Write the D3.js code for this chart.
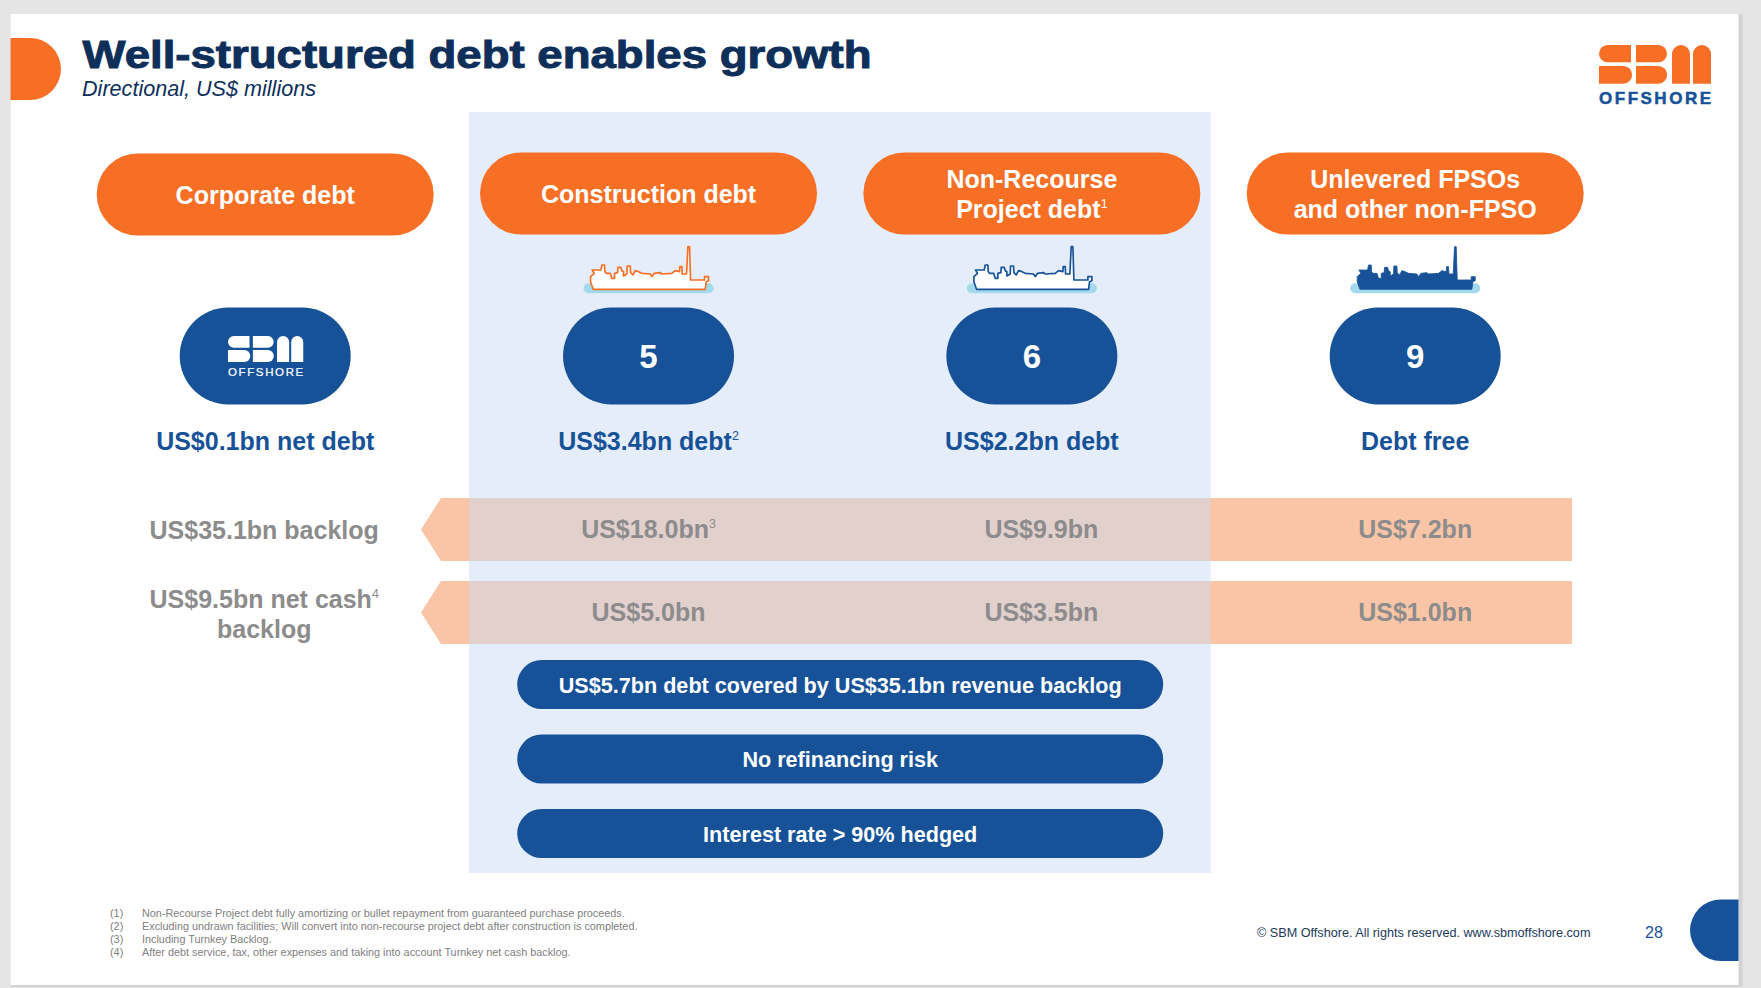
<!DOCTYPE html>
<html>
<head>
<meta charset="utf-8">
<title>Well-structured debt enables growth</title>
<script src="https://cdn.jsdelivr.net/npm/d3@7"></script>
<style>
  body { margin: 0; background: #e5e5e5; }
  svg { display: block; }
  text { font-family: "Liberation Sans", Arial, sans-serif; }
</style>
</head>
<body>
<svg id="slide"></svg>
<script>
// chart content
const categories = ["Corporate debt", "Construction debt", "Non-Recourse Project debt", "Unlevered FPSOs and other non-FPSO"];
const headerLines = [["Corporate debt"], ["Construction debt"], ["Non-Recourse", "Project debt"], ["Unlevered FPSOs", "and other non-FPSO"]];
const headerNotes = ["", "", "1", ""];
const fleetCounts = [null, 5, 6, 9];
const debtLabels = ["US$0.1bn net debt", "US$3.4bn debt", "US$2.2bn debt", "Debt free"];
const debtNotes = ["", "2", "", ""];
const backlogRows = ["backlog", "netCash"];
const rowLabels = [["US$35.1bn backlog"], ["US$9.5bn net cash", "backlog"]];
const rowNotes = ["", "4"];
const backlogValues = ["", "US$18.0bn", "US$9.9bn", "US$7.2bn"];
const backlogNotes = ["", "3", "", ""];
const netCashValues = ["", "US$5.0bn", "US$3.5bn", "US$1.0bn"];
const statements = ["US$5.7bn debt covered by US$35.1bn revenue backlog", "No refinancing risk", "Interest rate > 90% hedged"];
const footnotes = [
  "Non-Recourse Project debt fully amortizing or bullet repayment from guaranteed purchase proceeds.",
  "Excluding undrawn facilities; Will convert into non-recourse project debt after construction is completed.",
  "Including Turnkey Backlog.",
  "After debt service, tax, other expenses and taking into account Turnkey net cash backlog."
];
const shipStyles = ["outlineOrange", "outlineBlue", "solidBlue"];

const orange = "#f66f25", blue = "#175299", navy = "#0e2f5a", grey = "#8c8c8c";
const width = 1761, height = 988;

const svg = d3.select("#slide").attr("width", width).attr("height", height);

// page sheet
svg.append("rect").attr("x", 10.5).attr("y", 14).attr("width", 1732).attr("height", 973).attr("fill", "#d2d2d2");
svg.append("rect").attr("x", 10.5).attr("y", 14).attr("width", 1728).attr("height", 971).attr("fill", "#fff");

// scales
const x = d3.scalePoint().domain(categories).range([265.2, 1415.2]);
const rowY = d3.scalePoint().domain(backlogRows).range([529.5, 612.5]);
const stmtY = d3.scalePoint().domain(statements).range([684.5, 833.5]);

// side tabs, rounded on one side only
const tabPath = (x0, x1, y0, y1, r, roundRight) => roundRight
  ? `M${x0},${y0}H${x1 - r}A${r},${r} 0 0 1 ${x1},${y0 + r}V${y1 - r}A${r},${r} 0 0 1 ${x1 - r},${y1}H${x0}Z`
  : `M${x1},${y0}H${x0 + r}A${r},${r} 0 0 0 ${x0},${y0 + r}V${y1 - r}A${r},${r} 0 0 0 ${x0 + r},${y1}H${x1}Z`;
svg.append("path").attr("d", tabPath(10.5, 61, 38, 100, 31, true)).attr("fill", orange);
svg.append("path").attr("d", tabPath(1690, 1738.5, 899.5, 961, 31, false)).attr("fill", blue);

// title
svg.append("text").attr("x", 82.5).attr("y", 68)
  .attr("font-size", 39).attr("font-weight", 700).attr("fill", navy)
  .attr("stroke", navy).attr("stroke-width", 1)
  .attr("textLength", 789).attr("lengthAdjust", "spacingAndGlyphs")
  .text("Well-structured debt enables growth");
svg.append("text").attr("x", 82).attr("y", 96)
  .attr("font-size", 21.6).attr("font-style", "italic").attr("fill", navy)
  .text("Directional, US$ millions");

// logo: S, B and M blocks, drawn in a 336x116 box
const logoShapes = [
  "M26,0H96V52H26A26,26 0 0 1 26,0Z",
  "M0,63H73A26.5,26.5 0 0 1 73,116H0Z",
  "M111,0H178A26,26 0 0 1 178,52H111Z",
  "M111,63H178A26.5,26.5 0 0 1 178,116H111Z",
  "M219,116V27A27,27 0 0 1 273,27V116Z",
  "M282,116V27A27,27 0 0 1 336,27V116Z"
];
function drawLogo(g, tx, ty, k, fills, wordSize, wordWeight, wordStroke) {
  g.append("g").attr("transform", `translate(${tx},${ty}) scale(${k / 3})`)
    .selectAll("path").data(logoShapes).join("path")
    .attr("d", d => d).attr("fill", fills[0]);
  g.append("text").attr("x", tx).attr("y", ty + 116 * k / 3 + wordSize * 1.2)
    .attr("font-size", wordSize).attr("font-weight", wordWeight).attr("fill", fills[1])
    .attr("stroke", fills[1]).attr("stroke-width", wordStroke)
    .attr("textLength", 336 * k / 3).attr("lengthAdjust", "spacing")
    .text("OFFSHORE");
}
drawLogo(svg, 1599, 45, 1, [orange, blue], 17, 700, 0.5);

// blue band goes over the backlog bars, so keep the bars first
const bars = svg.append("g");
bars.selectAll("path").data(backlogRows).join("path")
  .attr("d", d => {
    const m = rowY(d), t = m - 31.5, b = m + 31.5;
    return d3.line()([[441, t], [1572, t], [1572, b], [441, b], [421, m]]) + "Z";
  })
  .attr("fill", "#fac5a6");
svg.append("rect").attr("x", 469).attr("y", 112).attr("width", 741.7).attr("height", 761)
  .attr("fill", "#c9dbf3").attr("opacity", 0.5);

// helper for text with an optional superscript note
function addNote(sel, note, size) {
  if (note) sel.append("tspan").attr("dy", -size * 0.42).attr("font-size", size * 0.5).attr("font-weight", 400).text(note);
}

// header pills
const headerY = [153.5, 152.5, 152.5, 152.5];
const headers = svg.append("g").selectAll("g").data(categories).join("g")
  .attr("transform", (d, i) => `translate(${x(d)},${headerY[i]})`);
headers.append("rect").attr("x", -168.5).attr("width", 337).attr("height", 82).attr("rx", 41).attr("fill", orange);
headers.each(function (d, i) {
  const lines = headerLines[i];
  const first = lines.length === 1 ? 50 : 35.5;
  lines.forEach((line, j) => {
    const t = d3.select(this).append("text").attr("y", first + j * 30)
      .attr("text-anchor", "middle").attr("font-size", 25).attr("font-weight", 700).attr("fill", "#fff").text(line);
    if (j === lines.length - 1) addNote(t, headerNotes[i], 25);
  });
});

// FPSO icons
const shipPath = "M69,178L61,155V140L72,130L66,120H92L95,105H103L104,125L108,130H120L125,145H133V130L142,128L143,112H152L155,122L160,125V138L170,132L171,108H180L181,128L188,135L195,122L205,125L215,130L240,132L245,140L252,130L270,128L275,132L305,130L315,122L328,125L329,110H335L336,132H349L353,50H358L361,150H403V140H415V152L408,155L405,178Z";
const ships = svg.append("g").selectAll("g").data(shipStyles).join("g")
  .attr("transform", (d, i) => `translate(${x(categories[i + 1]) - 78.3},230) scale(0.3333)`);
ships.append("rect").attr("x", 40).attr("y", 160).attr("width", 390).attr("height", 30).attr("rx", 15).attr("fill", "#a3d9ec");
ships.append("path").attr("d", shipPath)
  .attr("fill", d => d === "solidBlue" ? blue : "#fff")
  .attr("stroke", d => d === "outlineOrange" ? orange : blue)
  .attr("stroke-width", d => d === "solidBlue" ? 2.5 : 5).attr("stroke-linejoin", "round");

// fleet count pills
const counts = svg.append("g").selectAll("g").data(categories).join("g")
  .attr("transform", d => `translate(${x(d)},307.5)`);
counts.append("rect").attr("x", -85.5).attr("width", 171).attr("height", 97).attr("rx", 48.5).attr("fill", blue);
counts.append("text").attr("y", 60.5).attr("text-anchor", "middle")
  .attr("font-size", 33).attr("font-weight", 700).attr("fill", "#fff")
  .text((d, i) => fleetCounts[i] === null ? "" : fleetCounts[i]);
drawLogo(svg, 228, 336, 0.672, ["#fff", "#fff"], 11.5, 400, 0.2);

// debt labels
svg.append("g").selectAll("text").data(categories).join("text")
  .attr("x", d => x(d)).attr("y", 450).attr("text-anchor", "middle")
  .attr("font-size", 25).attr("font-weight", 700).attr("fill", blue)
  .text((d, i) => debtLabels[i])
  .each(function (d, i) { addNote(d3.select(this), debtNotes[i], 25); });

// backlog row labels and values
const valueNudge = [0, 0, 9.5, 0];
backlogRows.forEach((row, r) => {
  const values = r === 0 ? backlogValues : netCashValues;
  const notes = r === 0 ? backlogNotes : ["", "", "", ""];
  svg.append("g").selectAll("text").data(categories.slice(1)).join("text")
    .attr("x", (d, i) => x(d) + valueNudge[i + 1]).attr("y", rowY(row) + 8.7)
    .attr("text-anchor", "middle").attr("font-size", 25).attr("font-weight", 700).attr("fill", grey)
    .text((d, i) => values[i + 1])
    .each(function (d, i) { addNote(d3.select(this), notes[i + 1], 25); });
  const lines = rowLabels[r];
  lines.forEach((line, j) => {
    const t = svg.append("text").attr("x", 264.2)
      .attr("y", lines.length === 1 ? rowY(row) + 9 : rowY(row) - 4.5 + j * 30)
      .attr("text-anchor", "middle").attr("font-size", 25).attr("font-weight", 700).attr("fill", grey).text(line);
    if (j === 0) addNote(t, rowNotes[r], 25);
  });
});

// statement pills
const stmts = svg.append("g").selectAll("g").data(statements).join("g")
  .attr("transform", d => `translate(840.2,${stmtY(d)})`);
stmts.append("rect").attr("x", -323).attr("width", 646).attr("height", 49).attr("y", -24.5).attr("rx", 24.5).attr("fill", blue);
stmts.append("text").attr("y", 8).attr("text-anchor", "middle")
  .attr("font-size", 21.6).attr("font-weight", 700).attr("fill", "#fff").text(d => d);

// footnotes
const notes = svg.append("g").selectAll("g").data(footnotes).join("g")
  .attr("transform", (d, i) => `translate(110,${917 + i * 13})`)
  .attr("font-size", 10.85).attr("fill", "#808080");
notes.append("text").text((d, i) => `(${i + 1})`);
notes.append("text").attr("x", 32).text(d => d);

// footer
svg.append("text").attr("x", 1257).attr("y", 937).attr("font-size", 12.65).attr("fill", "#23395b")
  .text("© SBM Offshore. All rights reserved. www.sbmoffshore.com");
svg.append("text").attr("x", 1645).attr("y", 938).attr("font-size", 16).attr("fill", blue).text("28");
</script>
</body>
</html>
